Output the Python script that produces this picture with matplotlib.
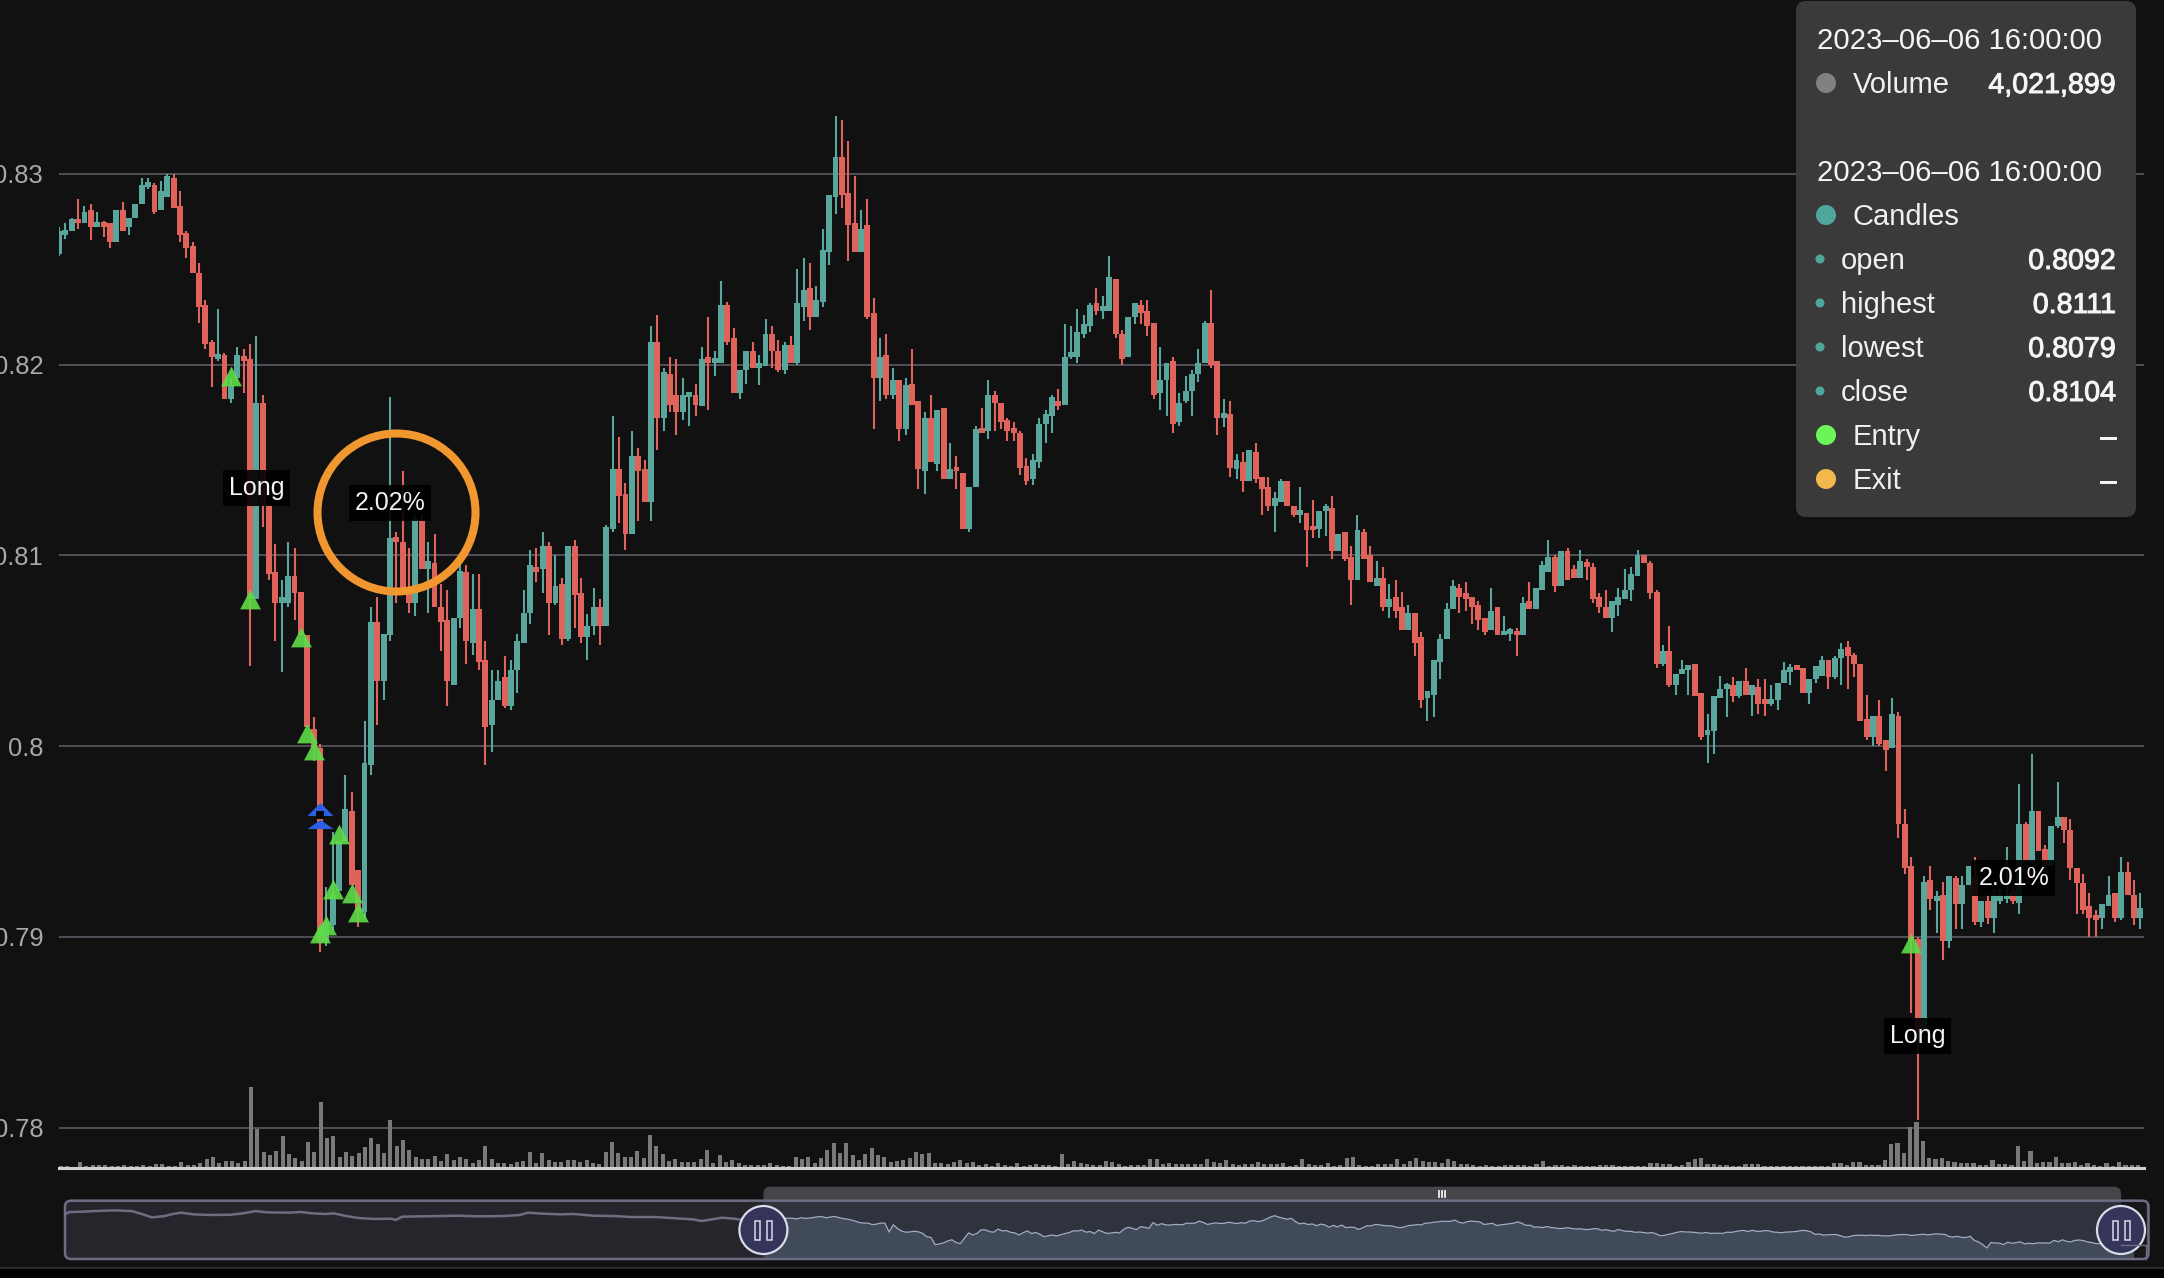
import matplotlib
matplotlib.use('Agg')
import matplotlib.pyplot as plt
import matplotlib.patheffects as pe
from matplotlib.patches import Circle, FancyBboxPatch, Rectangle
import numpy as np

plt.rcParams['font.family'] = ['Liberation Sans', 'DejaVu Sans']

# Prices are in units of 0.0001
opens = [
    8258, 8268, 8270, 8276, 8274, 8281, 8272, 8274, 8274, 8264,
    8281, 8272, 8277, 8284, 8293, 8294, 8281, 8288, 8298, 8283,
    8269, 8262, 8248, 8231, 8212, 8203, 8205, 8182, 8193, 8204,
    8203, 8077, 8180, 8126, 8091, 8075, 8075, 8089, 8081, 8058,
    8009, 7999, 7898, 7906, 7924, 7950, 7966, 7935, 7913,
    7990, 8065, 8034, 8058, 8109, 8107, 8082, 8075, 8118, 8093,
    8096, 8073, 8066, 8032, 8067, 8091, 8054, 8072, 8045, 8011,
    8024, 8036, 8021, 8040, 8054, 8070, 8094, 8093, 8105, 8075,
    8085, 8056, 8105, 8080, 8057, 8063, 8073, 8063, 8114, 8145,
    8132, 8111, 8152, 8145, 8128, 8212, 8172, 8195, 8184, 8175,
    8183, 8184, 8178, 8204, 8201, 8201, 8231, 8214, 8185, 8197,
    8207, 8198, 8199, 8216, 8207, 8197, 8210, 8201, 8230, 8240,
    8225, 8233, 8259, 8288, 8309, 8290, 8274, 8259, 8273, 8227,
    8193, 8205, 8184, 8192, 8166, 8190, 8181, 8144, 8172, 8148,
    8177, 8140, 8145, 8143, 8114, 8136, 8165, 8165, 8184, 8180,
    8171, 8166, 8164, 8147, 8140, 8149, 8169, 8173, 8181, 8179,
    8204, 8204, 8216, 8220, 8232, 8228, 8228, 8245, 8216, 8204,
    8225, 8231, 8228, 8222, 8185, 8192, 8202, 8170, 8181, 8186,
    8195, 8201, 8222, 8202, 8172, 8174, 8145, 8149, 8139, 8154,
    8141, 8136, 8126, 8128, 8139, 8126, 8121, 8122, 8114, 8114,
    8123, 8125, 8102, 8112, 8099, 8087, 8112, 8100, 8084, 8088,
    8073, 8078, 8073, 8061, 8070, 8057, 8025, 8027, 8044, 8056,
    8072, 8083, 8080, 8078, 8074, 8067, 8061, 8073, 8058, 8059,
    8060, 8058, 8076, 8072, 8082, 8091, 8099, 8084, 8102, 8093,
    8088, 8096, 8094, 8078, 8073, 8067, 8074, 8077, 8082, 8089,
    8100, 8096, 8081, 8043, 8050, 8032, 8038, 8040, 8043, 8028,
    8006, 8008, 8025, 8030, 8032, 8026, 8034, 8027, 8031, 8024,
    8022, 8024, 8033, 8039, 8041, 8041, 8028, 8035, 8037, 8045,
    8036, 8046, 8052, 8048, 8043, 8014, 8005, 8016, 8003, 7999,
    8016, 7959, 7937, 7899, 7850, 7930, 7919, 7922, 7898, 7931,
    7917, 7927, 7932, 7908, 7919, 7910, 7919, 7920, 7924, 7918,
    7959, 7939, 7966, 7946, 7937, 7958, 7963, 7956, 7936, 7928,
    7916, 7910, 7910, 7916, 7923, 7910, 7934, 7922, 7910,
]
closes = [
    8270, 8270, 8276, 8274, 8280, 8272, 8274, 8272, 8264, 8281,
    8270, 8277, 8284, 8294, 8294, 8280, 8291, 8299, 8282, 8268,
    8261, 8248, 8230, 8211, 8204, 8204, 8182, 8189, 8205, 8202,
    8077, 8180, 8127, 8090, 8075, 8078, 8089, 8080, 8058, 8010,
    7999, 7898, 7908, 7922, 7950, 7967, 7927, 7913, 7991,
    8065, 8034, 8059, 8109, 8107, 8082, 8075, 8119, 8093, 8097,
    8073, 8065, 8034, 8067, 8092, 8055, 8072, 8044, 8010, 8024,
    8034, 8021, 8040, 8055, 8070, 8095, 8091, 8105, 8075, 8084,
    8056, 8105, 8079, 8057, 8063, 8073, 8063, 8115, 8145, 8131,
    8111, 8152, 8144, 8128, 8212, 8172, 8196, 8179, 8175, 8184,
    8184, 8179, 8203, 8201, 8202, 8231, 8212, 8185, 8197, 8207,
    8198, 8201, 8216, 8207, 8197, 8210, 8201, 8232, 8239, 8225,
    8234, 8260, 8289, 8309, 8289, 8273, 8259, 8271, 8225, 8193,
    8204, 8184, 8192, 8166, 8189, 8179, 8145, 8172, 8149, 8176,
    8140, 8145, 8144, 8114, 8136, 8166, 8164, 8184, 8180, 8170,
    8165, 8164, 8146, 8139, 8150, 8169, 8174, 8183, 8178, 8204,
    8205, 8217, 8221, 8231, 8228, 8229, 8246, 8216, 8203, 8225,
    8232, 8227, 8220, 8184, 8192, 8201, 8169, 8180, 8186, 8195,
    8201, 8222, 8200, 8172, 8173, 8146, 8150, 8139, 8155, 8140,
    8135, 8126, 8130, 8139, 8126, 8121, 8122, 8113, 8113, 8123,
    8126, 8102, 8111, 8098, 8087, 8113, 8098, 8086, 8088, 8073,
    8077, 8071, 8061, 8070, 8054, 8024, 8029, 8045, 8056, 8072,
    8084, 8078, 8077, 8073, 8066, 8060, 8071, 8058, 8060, 8060,
    8058, 8075, 8072, 8083, 8095, 8099, 8084, 8102, 8087, 8088,
    8097, 8094, 8077, 8073, 8067, 8076, 8078, 8082, 8090, 8100,
    8096, 8080, 8043, 8050, 8032, 8038, 8040, 8042, 8026, 8005,
    8008, 8026, 8030, 8032, 8026, 8034, 8027, 8032, 8022, 8022,
    8024, 8033, 8040, 8041, 8040, 8028, 8035, 8042, 8045, 8036,
    8046, 8051, 8047, 8043, 8013, 8005, 8016, 8001, 7998, 8017,
    7959, 7936, 7898, 7850, 7929, 7920, 7920, 7898, 7932, 7917,
    7927, 7937, 7908, 7919, 7910, 7922, 7922, 7922, 7919, 7959,
    7939, 7966, 7945, 7937, 7958, 7963, 7956, 7936, 7928, 7914,
    7910, 7909, 7917, 7922, 7910, 7934, 7922, 7910, 7915,
]
highs = [
    8272, 8274, 8277, 8287, 8283, 8284, 8280, 8275, 8274, 8281,
    8285, 8277, 8284, 8298, 8298, 8295, 8296, 8300, 8300, 8291,
    8270, 8264, 8253, 8234, 8213, 8229, 8206, 8193, 8209, 8208,
    8211, 8215, 8184, 8127, 8106, 8087, 8107, 8104, 8081, 8058,
    8015, 8001, 7926, 7955, 7950, 7985, 7976, 7935, 8013,
    8073, 8078, 8059, 8183, 8112, 8144, 8104, 8121, 8121, 8107,
    8111, 8085, 8082, 8067, 8100, 8095, 8090, 8090, 8055, 8040,
    8040, 8047, 8045, 8059, 8082, 8103, 8104, 8112, 8107, 8100,
    8088, 8105, 8108, 8088, 8069, 8083, 8077, 8116, 8173, 8162,
    8138, 8165, 8156, 8150, 8220, 8226, 8198, 8204, 8203, 8193,
    8184, 8190, 8209, 8225, 8207, 8244, 8233, 8219, 8197, 8207,
    8212, 8205, 8224, 8220, 8213, 8212, 8215, 8250, 8256, 8253,
    8241, 8271, 8289, 8330, 8328, 8317, 8299, 8281, 8287, 8235,
    8214, 8216, 8198, 8192, 8193, 8208, 8181, 8175, 8184, 8176,
    8177, 8159, 8152, 8143, 8136, 8168, 8177, 8192, 8186, 8180,
    8172, 8170, 8165, 8151, 8153, 8172, 8176, 8184, 8187, 8221,
    8220, 8229, 8226, 8232, 8240, 8236, 8257, 8245, 8218, 8225,
    8232, 8234, 8234, 8222, 8209, 8201, 8204, 8185, 8194, 8197,
    8208, 8223, 8239, 8202, 8182, 8181, 8153, 8154, 8155, 8159,
    8141, 8141, 8133, 8140, 8139, 8126, 8136, 8122, 8129, 8123,
    8127, 8131, 8111, 8112, 8105, 8121, 8114, 8105, 8097, 8094,
    8085, 8087, 8081, 8074, 8070, 8060, 8029, 8045, 8059, 8075,
    8087, 8085, 8086, 8078, 8076, 8067, 8083, 8073, 8068, 8062,
    8062, 8078, 8086, 8083, 8097, 8108, 8100, 8102, 8104, 8095,
    8103, 8098, 8096, 8080, 8082, 8076, 8083, 8093, 8094, 8103,
    8100, 8097, 8082, 8053, 8063, 8038, 8045, 8042, 8043, 8028,
    8017, 8026, 8037, 8033, 8036, 8034, 8041, 8032, 8035, 8035,
    8032, 8033, 8044, 8043, 8041, 8041, 8035, 8042, 8047, 8045,
    8047, 8054, 8055, 8049, 8043, 8027, 8016, 8024, 8003, 8025,
    8018, 7967, 7942, 7900, 7932, 7937, 7924, 7929, 7932, 7932,
    7932, 7937, 7942, 7919, 7922, 7925, 7925, 7947, 7926, 7980,
    7960, 7996, 7966, 7948, 7958, 7981, 7963, 7962, 7936, 7933,
    7923, 7914, 7917, 7932, 7923, 7942, 7939, 7930, 7923,
]
lows = [
    8257, 8266, 8270, 8271, 8274, 8265, 8272, 8267, 8261, 8264,
    8270, 8268, 8277, 8284, 8292, 8279, 8281, 8288, 8282, 8264,
    8256, 8248, 8222, 8208, 8188, 8202, 8182, 8180, 8191, 8185,
    8042, 8077, 8115, 8087, 8055, 8039, 8073, 8066, 8058, 8010,
    7992, 7892, 7895, 7903, 7924, 7950, 7927, 7905, 7910,
    7985, 8011, 8024, 8055, 8075, 8082, 8070, 8068, 8093, 8070,
    8073, 8050, 8021, 8032, 8062, 8043, 8048, 8040, 7990, 7997,
    8024, 8020, 8019, 8028, 8054, 8064, 8086, 8080, 8058, 8074,
    8053, 8055, 8062, 8054, 8045, 8058, 8053, 8063, 8112, 8117,
    8103, 8111, 8118, 8128, 8118, 8155, 8165, 8175, 8163, 8171,
    8168, 8173, 8178, 8176, 8194, 8201, 8210, 8185, 8182, 8190,
    8198, 8189, 8199, 8198, 8196, 8195, 8201, 8200, 8223, 8218,
    8225, 8230, 8252, 8279, 8282, 8254, 8259, 8259, 8224, 8166,
    8181, 8182, 8182, 8160, 8163, 8179, 8135, 8132, 8149, 8144,
    8140, 8140, 8135, 8114, 8112, 8136, 8164, 8161, 8165, 8166,
    8160, 8160, 8142, 8137, 8137, 8146, 8159, 8164, 8176, 8179,
    8203, 8201, 8214, 8217, 8226, 8224, 8228, 8214, 8200, 8204,
    8221, 8221, 8215, 8182, 8176, 8173, 8164, 8168, 8180, 8173,
    8191, 8201, 8198, 8163, 8167, 8141, 8140, 8133, 8139, 8138,
    8121, 8123, 8112, 8128, 8126, 8120, 8117, 8094, 8109, 8109,
    8110, 8098, 8102, 8097, 8074, 8087, 8098, 8086, 8084, 8071,
    8067, 8067, 8061, 8061, 8047, 8020, 8013, 8015, 8035, 8056,
    8072, 8070, 8071, 8064, 8061, 8058, 8061, 8058, 8058, 8055,
    8047, 8058, 8072, 8072, 8082, 8091, 8081, 8084, 8087, 8088,
    8088, 8087, 8075, 8070, 8067, 8060, 8068, 8077, 8076, 8089,
    8096, 8077, 8041, 8042, 8031, 8027, 8038, 8027, 8026, 8003,
    7991, 7996, 8025, 8015, 8023, 8025, 8027, 8016, 8017, 8016,
    8021, 8019, 8033, 8032, 8040, 8028, 8022, 8033, 8037, 8030,
    8035, 8032, 8030, 8036, 8013, 8003, 8000, 8000, 7987, 7999,
    7952, 7933, 7860, 7804, 7850, 7914, 7902, 7888, 7894, 7904,
    7904, 7927, 7906, 7905, 7907, 7902, 7917, 7918, 7917, 7912,
    7939, 7938, 7945, 7937, 7937, 7957, 7949, 7930, 7912, 7912,
    7900, 7900, 7904, 7916, 7908, 7909, 7922, 7906, 7904,
]
# Relative volume, one bar per period
volumes = [
    5, 6, 3, 16, 5, 8, 8, 9, 4, 5,
    8, 5, 4, 9, 6, 10, 10, 4, 5, 18,
    8, 8, 15, 25, 32, 14, 19, 20, 15, 21,
    242, 116, 47, 37, 50, 95, 40, 29, 20, 76,
    48, 198, 88, 95, 33, 46, 36, 44, 62, 88,
    70, 44, 142, 64, 83, 53, 33, 25, 26, 36,
    20, 40, 23, 32, 26, 14, 24, 64, 25, 14,
    13, 10, 17, 20, 47, 15, 44, 23, 18, 17,
    23, 23, 17, 23, 14, 12, 47, 77, 44, 32,
    33, 50, 29, 98, 65, 42, 20, 26, 16, 16,
    16, 26, 52, 14, 39, 16, 23, 15, 7, 9,
    9, 9, 13, 8, 5, 6, 33, 26, 31, 15,
    30, 54, 73, 44, 75, 38, 22, 40, 58, 37,
    31, 16, 19, 23, 29, 46, 40, 44, 14, 13,
    11, 16, 22, 13, 16, 8, 10, 6, 14, 7,
    5, 14, 5, 8, 10, 9, 7, 5, 42, 11,
    19, 14, 10, 9, 8, 20, 17, 12, 6, 7,
    8, 8, 27, 27, 12, 14, 10, 10, 12, 11,
    12, 25, 18, 15, 22, 10, 8, 10, 12, 16,
    10, 12, 10, 13, 6, 8, 27, 12, 9, 9,
    14, 5, 8, 30, 33, 7, 6, 6, 10, 10,
    11, 27, 10, 20, 29, 20, 17, 16, 13, 26,
    19, 10, 12, 7, 5, 7, 6, 6, 7, 7,
    7, 8, 5, 12, 20, 5, 7, 7, 4, 9,
    5, 6, 6, 7, 8, 9, 6, 6, 4, 5,
    6, 13, 13, 10, 11, 6, 7, 18, 25, 29,
    11, 10, 8, 7, 6, 5, 10, 10, 10, 5,
    5, 6, 5, 5, 5, 5, 5, 5, 5, 5,
    13, 13, 7, 16, 16, 7, 8, 8, 22, 72,
    75, 44, 121, 138, 80, 28, 25, 30, 19, 17,
    15, 15, 13, 8, 7, 22, 10, 12, 7, 66,
    19, 50, 13, 16, 16, 31, 13, 13, 17, 9,
    13, 7, 6, 13, 6, 17, 7, 7, 7,
]

# Signals
entry_index = [27, 30, 38, 39, 40, 44, 43, 46, 47, 42, 41, 291]
entry_price = [8194, 8077, 8057, 8007, 7998, 7954, 7925, 7923, 7913, 7906, 7902, 7897]
exit_index = [41, 41]
exit_price = [7967, 7959]
label_text = ['Long', '2.02%', 'Long', '2.01%']
label_index = [31, 52, 292, 307.1]
label_price = [8135.5, 8127.6, 7848, 7931]

# Overview line before the visible window
history_pos = [-169, -168, -165, -162, -157, -153, -151, -148, -145, -143, -141, -138, -134,
               -129, -126, -123, -120, -115, -112, -109, -106, -104, -101, -98, -94, -90, -89,
               -87.5, -83, -78, -74, -69, -63, -59, -57, -53.5, -49, -46, -41, -36, -32, -26,
               -21, -17, -15, -12.5, -10, -7, -5]
history_close = [8333, 8361, 8366, 8375, 8385, 8375, 8342, 8285, 8304, 8333, 8352, 8328, 8319,
                 8323, 8342, 8375, 8356, 8352, 8361, 8342, 8333, 8342, 8304, 8276, 8262, 8266, 8248,
                 8295, 8300, 8304, 8309, 8300, 8304, 8319, 8352, 8338, 8328, 8333, 8309, 8304, 8290, 8290,
                 8271, 8257, 8233, 8257, 8281, 8266, 8248]

# Tooltip
tip_date = '2023–06–06 16:00:00'
tip_rows = [('Volume', '4,021,899', 83, 'big', '#808080'),
            ('Candles', '', 215, 'big', '#4FA69B'),
            ('open', '0.8092', 259, 'small', '#4FA69B'),
            ('highest', '0.8111', 303, 'small', '#4FA69B'),
            ('lowest', '0.8079', 347, 'small', '#4FA69B'),
            ('close', '0.8104', 391, 'small', '#4FA69B'),
            ('Entry', '–', 435, 'big', '#6CF55A'),
            ('Exit', '–', 479, 'big', '#F2B84B')]

W, H = 2164, 1278
BG = '#111112'
TEAL = '#58A69C'
RED = '#DF635B'

o = np.array(opens) / 10000
c = np.array(closes) / 10000
hi = np.array(highs) / 10000
lo = np.array(lows) / 10000
xs = np.arange(len(o))
up = c >= o


def box(x0, y0, x1, y1):
    return [x0 / W, 1 - y1 / H, (x1 - x0) / W, (y1 - y0) / H]


def rounded(ax, x0, y0, x1, y1, r, **kw):
    p = FancyBboxPatch((x0 + r, y0 + r), x1 - x0 - 2 * r, y1 - y0 - 2 * r,
                       boxstyle=f'round,pad={r},rounding_size={r}', **kw)
    ax.add_patch(p)
    return p


fig = plt.figure(figsize=(W / 100, H / 100), dpi=100, facecolor=BG)

# Main price axes
plot_l, plot_r, plot_b = 58.5, 2143.7, 1167.5
ax = fig.add_axes(box(plot_l, 0, plot_r, plot_b), zorder=1)
ax.set_facecolor(BG)
for s in ax.spines.values():
    s.set_visible(False)
ax.set_xlim((plot_l - 59) / 6.365, (plot_r - 59) / 6.365)
ax.set_ylim(0.83 - (plot_b - 173.7) / 19080, 0.83 + 173.7 / 19080)
ax.set_yticks([0.83, 0.82, 0.81, 0.8, 0.79, 0.78])
ax.set_yticklabels(['0.83', '0.82', '0.81', '0.8', '0.79', '0.78'])
ax.set_xticks([])
ax.tick_params(axis='y', length=0, pad=11, labelsize=18.4, labelcolor='#A8A8AC')
ax.grid(axis='y', color='#504F57', linewidth=1.4)
ax.set_axisbelow(True)

# Volume on its own scale at the bottom
ax_vol = fig.add_axes(box(plot_l, 0, plot_r, plot_b), zorder=1.5)
ax_vol.axis('off')
ax_vol.patch.set_alpha(0)
ax_vol.set_xlim((plot_l - 61) / 6.333, (plot_r - 61) / 6.333)
ax_vol.set_ylim(0, plot_b * 3)
ax_vol.bar(np.arange(len(volumes)), volumes, width=0.66, color='#7A7A7A', linewidth=0)
ax_vol.axhline(0, color='#CFCFD6', linewidth=2.2, clip_on=False)

# Candles
ax_c = fig.add_axes(box(plot_l, 0, plot_r, plot_b), zorder=2, sharex=ax, sharey=ax)
ax_c.axis('off')
ax_c.patch.set_alpha(0)
colors = np.where(up, TEAL, RED)
ax_c.vlines(xs, lo, hi, colors=colors, linewidth=1.5)
ax_c.bar(xs, np.maximum(np.abs(c - o), 0.00025), bottom=np.minimum(o, c), width=0.93,
         color=colors, linewidth=0)

ax_c.scatter(entry_index, np.array(entry_price) / 10000, s=225, color='#5FDD48', alpha=0.9,
             marker=[(-1, -0.95), (1, -0.95), (0, 0.95)], linewidths=0, zorder=5)
ax_c.scatter(exit_index[:1], np.array(exit_price[:1]) / 10000, s=350, color='#2C5FE4',
             marker=[(-1, -0.5), (1, -0.5), (0, 0.5)], linewidths=0, zorder=5)
ax_c.scatter(exit_index[1:], np.array(exit_price[1:]) / 10000, s=350, color='#2C5FE4',
             marker=[(-1, -0.35), (1, -0.35), (0, 0.35)], linewidths=0, zorder=5)
ax_c.scatter([41], [0.7964], s=34, color='#050505', marker='s', linewidths=0, zorder=6)

for t, i, p in zip(label_text, label_index, label_price):
    ax_c.text(i, p / 10000, t, color='#F4F4F4', fontsize=18, ha='center', va='center', zorder=7,
              bbox=dict(boxstyle='square,pad=0.24', fc='#000000', ec='none', alpha=0.9))

# Orange circle and tooltip, in pixel coordinates
ui = fig.add_axes([0, 0, 1, 1], zorder=3)
ui.set_xlim(0, W)
ui.set_ylim(H, 0)
ui.axis('off')
ui.patch.set_alpha(0)
ui.add_patch(Circle((396.5, 512.5), 79, fill=False, ec='#F0982F', lw=5.8))

rounded(ui, 1796, 1, 2136, 517, 10, fc='#3C3C3C', ec='none', alpha=0.97)
for y in (39, 171):
    ui.text(1817, y + 2, tip_date, color='#F5F5F5', fontsize=21.2, va='center', ha='left')
for name, val, y, kind, col in tip_rows:
    if kind == 'big':
        ui.add_patch(Circle((1826, y), 10, fc=col, ec='none'))
        tx = 1853
    else:
        ui.add_patch(Circle((1820, y), 4.5, fc=col, ec='none'))
        tx = 1841
    ui.text(tx, y + 2, name, color='#F0F0F0', fontsize=21, va='center', ha='left')
    ui.text(2116, y + 2, val, color='#F5F5F5', fontsize=20.6, va='center', ha='right',
            path_effects=[pe.withStroke(linewidth=0.7, foreground='#F5F5F5')])

# Slider background
sl_l, sl_r, sl_t, sl_b = 65, 2148.5, 1200.7, 1259
sel_l, sel_r = 763.4, 2121
ui.add_patch(Rectangle((0, 1268), W, 10, fc='#000000', ec='none'))
ui.plot([0, W], [1268, 1268], color='#2A2A2C', lw=1.5)
rounded(ui, sel_l, 1186.7, sel_r, 1210, 7, fc='#46464A', ec='none')
rounded(ui, sl_l, sl_t, sl_r, sl_b, 6, fc='#25252B', ec='none')
ui.add_patch(Rectangle((sel_l, sl_t), sel_r - sel_l, sl_b - sl_t, fc='#2F333D', ec='none'))
ui.add_patch(Rectangle((sel_r, sl_t), sl_r - sel_r - 3, sl_b - sl_t, fc='#17171A', ec='none'))
for dx in (-3, 0, 3):
    ui.plot([1441.7 + dx, 1441.7 + dx], [1191, 1197], color='#F0F0F0', lw=1.3)

# Overview line
ov = fig.add_axes(box(sl_l, sl_t, sl_r, sl_b), zorder=4)
ov.axis('off')
ov.patch.set_alpha(0)
ov.set_xlim((sl_l - sel_l) / 4.19, (sl_r - sel_l) / 4.19)
ov.set_ylim(8309 - (sl_b - 1215.7) / 0.0704, 8309 + (1215.7 - sl_t) / 0.0704)
ov.plot(list(np.array(history_pos) * 4.13 / 4.19) + [0], history_close + [closes[0]],
        color='#6F6D80', lw=1.8)
ov.fill_between(xs, closes, 7000, color='#414A59', lw=0)
ov.plot(xs, closes, color='#A3ACC4', lw=0.9)

# Slider frame and handles
top = fig.add_axes([0, 0, 1, 1], zorder=5)
top.set_xlim(0, W)
top.set_ylim(H, 0)
top.axis('off')
top.patch.set_alpha(0)
rounded(top, sl_l, sl_t, sl_r, sl_b, 6, fc='none', ec='#6E6C85', lw=1.8)
top.plot([2121, 2146, 2146], [1245, 1245, 1259], color='#6E6C85', lw=1)
for cx in (sel_l, sel_r):
    top.add_patch(Circle((cx, 1230), 24, fc='#35355A', ec='#D8DCEB', lw=1.6))
    for dx in (-6, 6):
        top.add_patch(Rectangle((cx + dx - 2.5, 1220.5), 5, 19, fc='#35355A', ec='#D8DCEB', lw=1.1))

fig.savefig('out.png', dpi=100, facecolor=BG)
